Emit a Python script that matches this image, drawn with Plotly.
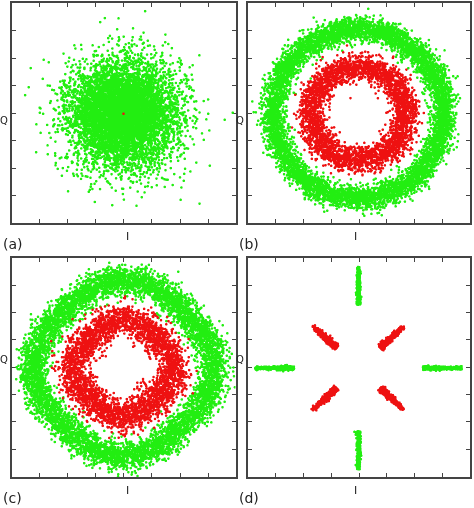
import numpy as np
import plotly.graph_objects as go

# cloud parameters (axes span -1..1)
panel_labels = ["(a)", "(b)", "(c)", "(d)"]
ring_green_r = [0.0, 0.77, 0.78]
ring_green_sd = [0.24, 0.055, 0.065]
ring_red_r = [0.0, 0.43, 0.43]
ring_red_sd = [0.004, 0.06, 0.07]
n_points = [7000, 7000, 7000]
spoke_green_angles = [0, 90, 180, 270]
spoke_green_span = [0.58, 0.93]
spoke_red_angles = [43, 137, 223, 317]
spoke_red_span = [0.27, 0.57]

rng = np.random.default_rng(7)
GREEN = "#22ee11"
RED = "#ee1111"


def ring(r, sd, n, squash=0.0):
    th = rng.uniform(0, 2 * np.pi, n)
    rr = r * (1 + squash * np.cos(4 * th)) + rng.normal(0, sd, n)
    return rr * np.cos(th), rr * np.sin(th)


def spokes(angles, span, n, skew):
    xs, ys = [], []
    for a in angles:
        t = span[0] + (span[1] - span[0]) * rng.beta(1.0, skew, n)
        w = rng.normal(0, 0.01, n) * (1.6 - t)
        ang = np.deg2rad(a)
        xs.append(t * np.cos(ang) - w * np.sin(ang))
        ys.append(t * np.sin(ang) + w * np.cos(ang))
    return np.concatenate(xs), np.concatenate(ys)


domains = [
    ([0.025, 0.498], [0.561, 0.994]),
    ([0.523, 0.992], [0.561, 0.994]),
    ([0.025, 0.498], [0.062, 0.492]),
    ([0.523, 0.992], [0.062, 0.492]),
]

fig = go.Figure()
for i in range(4):
    ax = "" if i == 0 else str(i + 1)
    if i < 3:
        if i == 0:
            gx, gy = rng.normal(0, ring_green_sd[0], n_points[0]), rng.normal(0, ring_green_sd[0], n_points[0])
            rx, ry = [0.0], [0.0]
        else:
            sq = 0.04 if i == 2 else 0.0
            gx, gy = ring(ring_green_r[i], ring_green_sd[i], n_points[i], sq)
            rx, ry = ring(ring_red_r[i], ring_red_sd[i], n_points[i] // 2, sq)
    else:
        gx, gy = spokes(spoke_green_angles, spoke_green_span, 400, 1.0)
        rx, ry = spokes(spoke_red_angles, spoke_red_span, 500, 1.8)
    for x, y, c in [(gx, gy, GREEN), (rx, ry, RED)]:
        fig.add_trace(go.Scattergl(x=x, y=y, xaxis="x" + ax, yaxis="y" + ax, mode="markers",
                                   marker=dict(color=c, size=2.6), showlegend=False))
    common = dict(range=[-1, 1], showgrid=False, zeroline=False, showticklabels=False,
                  ticks="inside", ticklen=4, tickcolor="#444", dtick=0.25,
                  showline=True, linecolor="#444", linewidth=1.5, mirror="ticks")
    fig.update_layout(**{
        "xaxis" + ax: dict(domain=domains[i][0], anchor="y" + ax, **common),
        "yaxis" + ax: dict(domain=domains[i][1], anchor="x" + ax, **common),
    })
    xd, yd = domains[i]
    fig.add_annotation(x=(xd[0] + xd[1]) / 2, y=yd[0] - 0.01, xref="paper", yref="paper",
                       text="I", showarrow=False, yanchor="top", font=dict(size=11))
    fig.add_annotation(x=xd[0] - 0.003, y=(yd[0] + yd[1]) / 2, xref="paper", yref="paper",
                       text="Q", showarrow=False, xanchor="right", font=dict(size=10))
    fig.add_annotation(x=xd[0] - 0.022, y=yd[0] - 0.022, xref="paper", yref="paper",
                       text=panel_labels[i], showarrow=False, xanchor="left", yanchor="top",
                       font=dict(size=14))

fig.update_layout(width=474, height=508, margin=dict(l=0, r=0, t=0, b=0),
                  plot_bgcolor="white", paper_bgcolor="white",
                  font=dict(family="DejaVu Sans", color="#222"))
fig.write_html("out.html", config={"displayModeBar": False},
               post_script="document.body.style.margin='0';")
